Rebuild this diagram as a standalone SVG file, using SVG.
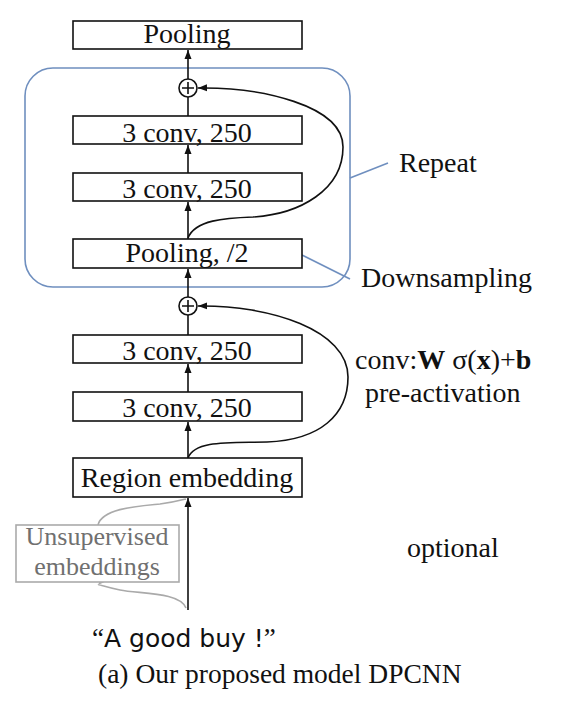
<svg xmlns="http://www.w3.org/2000/svg" width="565" height="706" viewBox="0 0 565 706">
<style>
.box{fill:#fff;stroke:#111;stroke-width:1.6}
.t{font-family:"Liberation Serif","Times New Roman",serif;font-size:28px;fill:#111}
.c{font-family:"Liberation Serif","Times New Roman",serif;font-size:28px;fill:#111;text-anchor:middle}
.g{fill:#707070;font-size:26px}
.ln{fill:none;stroke:#111;stroke-width:1.6}
.gl{fill:none;stroke:#aaa;stroke-width:1.6}
.bl{fill:none;stroke:#6f8fbf;stroke-width:1.6}
</style>
<defs>
<marker id="ah" markerUnits="userSpaceOnUse" markerWidth="10" markerHeight="10" refX="9" refY="5" orient="auto">
<path d="M0,1.5 L9,5 L0,8.5 Z" fill="#111"/>
</marker>
<marker id="ahg" markerUnits="userSpaceOnUse" markerWidth="10" markerHeight="10" refX="9" refY="5" orient="auto">
<path d="M0,1.5 L9,5 L0,8.5 Z" fill="#aaa"/>
</marker>
</defs>
<rect x="25" y="68" width="325" height="219" rx="28" ry="28" class="bl"/>
<g id="connectors">
<line class="ln" x1="188" y1="79" x2="188" y2="50" marker-end="url(#ah)"/>
<line class="ln" x1="188" y1="116" x2="188" y2="97"/>
<line class="ln" x1="188" y1="173" x2="188" y2="145" marker-end="url(#ah)"/>
<line class="ln" x1="188" y1="239" x2="188" y2="202" marker-end="url(#ah)"/>
<line class="ln" x1="188" y1="297" x2="188" y2="269" marker-end="url(#ah)"/>
<line class="ln" x1="188" y1="335" x2="188" y2="315"/>
<line class="ln" x1="188" y1="392" x2="188" y2="364" marker-end="url(#ah)"/>
<line class="ln" x1="188" y1="458" x2="188" y2="422" marker-end="url(#ah)"/>
<line class="ln" x1="188" y1="610" x2="188" y2="498" marker-end="url(#ah)"/>
<path class="ln" d="M188,238 C195,220 225,218 253,217 C300,214 343,190 343,147 C343,105 260,87 198,88" marker-end="url(#ah)"/>
<path class="ln" d="M188,458 C195,440 230,443 267,442 C320,440 348,415 348,377 C348,330 270,305 198,306" marker-end="url(#ah)"/>
<path class="gl" d="M186,608 C180,592 140,594 120,590 C105,587 99,584 98,585" marker-end="url(#ahg)"/>
<path class="gl" d="M98,525 C102,508 140,506 160,504 C175,502 182,500 186,499"/>
<line class="bl" x1="350" y1="178" x2="388" y2="163"/>
<line class="bl" x1="302" y1="255" x2="350" y2="279"/>
</g>
<g id="pooling_top"><rect class="box" x="73" y="21" width="229" height="28"/><text class="c" x="187" y="43">Pooling</text></g>
<g id="sum1"><circle cx="188" cy="88" r="9" fill="#fff" stroke="#111" stroke-width="1.6"/><path class="ln" d="M182,88 H194 M188,82 V94"/></g>
<g id="conv1"><rect class="box" x="73" y="116" width="229" height="28"/><text class="c" x="187" y="142">3 conv, 250</text></g>
<g id="conv2"><rect class="box" x="73" y="173" width="229" height="28"/><text class="c" x="187" y="198">3 conv, 250</text></g>
<g id="pool2"><rect class="box" x="73" y="239" width="229" height="29"/><text class="c" x="187" y="262">Pooling, /2</text></g>
<g id="sum2"><circle cx="188" cy="306" r="9" fill="#fff" stroke="#111" stroke-width="1.6"/><path class="ln" d="M182,306 H194 M188,300 V312"/></g>
<g id="conv3"><rect class="box" x="73" y="335" width="229" height="28"/><text class="c" x="187" y="360">3 conv, 250</text></g>
<g id="conv4"><rect class="box" x="73" y="392" width="229" height="29"/><text class="c" x="187" y="417">3 conv, 250</text></g>
<g id="region"><rect class="box" x="73" y="458" width="229" height="39"/><text class="c" x="187" y="487">Region embedding</text></g>
<g id="unsup"><rect x="16" y="525" width="163" height="57" fill="#fff" stroke="#aaa" stroke-width="1.6"/>
<text class="c g" x="97" y="545">Unsupervised</text>
<text class="c g" x="97" y="575">embeddings</text></g>
<g id="labels">
<text class="t" x="399" y="172">Repeat</text>
<text class="t" x="361" y="287">Downsampling</text>
<text class="t" x="355" y="369">conv:<tspan font-weight="bold">W</tspan> σ(<tspan font-weight="bold">x</tspan>)+<tspan font-weight="bold">b</tspan></text>
<text class="t" x="365" y="402">pre-activation</text>
<text class="t" x="407" y="557">optional</text>
</g>
<g id="input"><text x="92" y="647" font-size="27" fill="#111" font-family="Liberation Serif, serif">“<tspan font-family="DejaVu Sans, sans-serif" font-size="25">A good buy !</tspan>”</text></g>
<text class="t" x="98" y="683" style="font-size:27.5px">(a)  Our proposed model DPCNN</text>
</svg>
